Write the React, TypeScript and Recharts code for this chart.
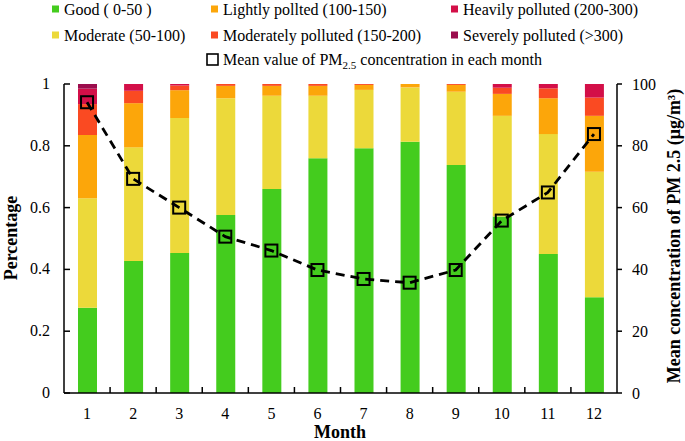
import React from 'react';
import { ComposedChart, Bar, Line, XAxis, YAxis } from 'recharts';

const months = ['1', '2', '3', '4', '5', '6', '7', '8', '9', '10', '11', '12'];

// share of days in each AQI class per month
const good = [0.276, 0.427, 0.453, 0.576, 0.66, 0.76, 0.792, 0.813, 0.738, 0.571, 0.45, 0.31];
const moderate = [0.354, 0.368, 0.437, 0.378, 0.302, 0.202, 0.189, 0.176, 0.237, 0.326, 0.388, 0.406];
const lightly = [0.205, 0.143, 0.09, 0.04, 0.032, 0.032, 0.016, 0.011, 0.022, 0.071, 0.116, 0.181];
const moderately = [0.1, 0.04, 0.015, 0.006, 0.006, 0.006, 0.003, 0, 0.003, 0.02, 0.032, 0.059];
const heavily = [0.05, 0.022, 0.005, 0, 0, 0, 0, 0, 0, 0.012, 0.014, 0.044];
const severely = [0.015, 0, 0, 0, 0, 0, 0, 0, 0, 0, 0, 0];

// mean PM2.5 (ug/m3)
const pmMean = [94.1, 69.3, 60.0, 50.6, 46.1, 39.8, 36.9, 35.7, 39.8, 55.8, 64.9, 83.8];

const leftTicks = [0, 0.2, 0.4, 0.6, 0.8, 1];
const rightTicks = [0, 20, 40, 60, 80, 100];

const FONT = '"Times New Roman", "Liberation Serif", Times, serif';

const series = [
  { key: 'good', name: 'Good ( 0-50 )', color: '#44CC1E', values: good },
  { key: 'moderate', name: 'Moderate (50-100)', color: '#ECD93A', values: moderate },
  { key: 'lightly', name: 'Lightly pollted (100-150)', color: '#FCA60A', values: lightly },
  { key: 'moderately', name: 'Moderately polluted (150-200)', color: '#FA4A22', values: moderately },
  { key: 'heavily', name: 'Heavily polluted (200-300)', color: '#D30F48', values: heavily },
  { key: 'severely', name: 'Severely polluted (>300)', color: '#9B0D4D', values: severely },
];

const data = months.map((m, i) => {
  const row: any = { month: m, pm: pmMean[i] };
  series.forEach(s => { row[s.key] = s.values[i]; });
  return row;
});

// month label plus a short inner tick at the right edge of each band
const MonthTick = (props: any) => {
  const { x, y, payload, width, visibleTicksCount } = props;
  const count = visibleTicksCount || months.length;
  const half = payload.offset || (width ? width / count / 2 : 0);
  const edge = x + half;
  const last = String(payload.value) === months[months.length - 1];
  return (
    <g>
      {!last && half > 0 && (
        <line x1={edge} x2={edge} y1={y} y2={y - 6} stroke="#000" strokeWidth={1.5} />
      )}
      <text x={x} y={y + 26} textAnchor="middle" fontSize={16} fontFamily={FONT} fill="#000">
        {payload.value}
      </text>
    </g>
  );
};

const LeftTick = (props: any) => {
  const { x, y, payload } = props;
  return (
    <g>
      <line x1={x} x2={x + 6} y1={y} y2={y} stroke="#000" strokeWidth={1.5} />
      <text x={x - 14} y={y + 5} textAnchor="end" fontSize={16} fontFamily={FONT} fill="#000">
        {payload.value}
      </text>
    </g>
  );
};

const SquareDot = (props: any) => {
  const { cx, cy } = props;
  if (cx == null || cy == null) return null;
  return <rect x={cx - 6} y={cy - 6} width={12} height={12} fill="none" stroke="#000" strokeWidth={2} />;
};

const legendCols = [52, 211, 451];
const legendRows = [14.5, 40.5];

const App = () => {
  return (
    <div style={{ position: 'absolute', left: 0, top: 0, width: 685, height: 441, background: '#fff', fontFamily: FONT }}>
      <ComposedChart
        width={685}
        height={441}
        data={data}
        margin={{ top: 84, right: 0, bottom: 0, left: 0 }}
        style={{ fontFamily: FONT }}
      >
        <YAxis
          yAxisId="left"
          width={64}
          domain={[0, 1]}
          ticks={leftTicks}
          interval={0}
          tickLine={false}
          tickSize={0}
          tickMargin={0}
          axisLine={{ stroke: '#000', strokeWidth: 1.5 }}
          tick={<LeftTick />}
        />
        <YAxis
          yAxisId="right"
          orientation="right"
          width={68}
          domain={[0, 100]}
          ticks={rightTicks}
          interval={0}
          tickSize={5}
          tickMargin={10}
          tickLine={{ stroke: '#000', strokeWidth: 1.5 }}
          axisLine={{ stroke: '#000', strokeWidth: 1.5 }}
          tick={{ fill: '#000', fontSize: 16, fontFamily: FONT }}
        />
        {series.map(s => (
          <Bar
            key={s.key}
            dataKey={s.key}
            name={s.name}
            stackId="a"
            xAxisId="m"
            yAxisId="left"
            fill={s.color}
            barSize={19}
            isAnimationActive={false}
          />
        ))}
        <Line
          dataKey="pm"
          xAxisId="m"
          yAxisId="right"
          type="linear"
          stroke="#000"
          strokeWidth={2.8}
          strokeDasharray="9 6"
          dot={<SquareDot />}
          activeDot={false}
          isAnimationActive={false}
        />
        <XAxis
          dataKey="month"
          xAxisId="m"
          height={48}
          interval={0}
          tickLine={false}
          tickSize={0}
          tickMargin={0}
          axisLine={{ stroke: '#000', strokeWidth: 1.5 }}
          tick={<MonthTick />}
        />
      </ComposedChart>

      <svg
        width={685}
        height={441}
        style={{ position: 'absolute', left: 0, top: 0, pointerEvents: 'none' }}
        fontFamily={FONT}
      >
        {[0, 1].map(r =>
          [0, 1, 2].map(c => {
            const s = series[c * 2 + r];
            const x = legendCols[c];
            const y = legendRows[r];
            return (
              <g key={s.key}>
                <rect x={x} y={y - 9} width={7} height={7} fill={s.color} />
                <text x={x + 12} y={y} fontSize={16} fill="#000">{s.name}</text>
              </g>
            );
          })
        )}
        <rect x={207} y={54} width={11} height={11} fill="none" stroke="#000" strokeWidth={1.6} />
        <text x={223} y={65} fontSize={16} fill="#000">
          Mean value of PM<tspan fontSize={11} dy={4}>2.5</tspan>
          <tspan dy={-4}> concentration in each month</tspan>
        </text>

        <text
          transform="translate(17,238) rotate(-90)"
          textAnchor="middle"
          fontSize={18}
          fontWeight="bold"
          fill="#000"
        >
          Percentage
        </text>
        <text
          transform="translate(680,236) rotate(-90)"
          textAnchor="middle"
          fontSize={18}
          fontWeight="bold"
          fill="#000"
        >
          Mean concentration of PM 2.5 (μg/m³)
        </text>
        <text x={340} y={438} textAnchor="middle" fontSize={18} fontWeight="bold" fill="#000">
          Month
        </text>
      </svg>
    </div>
  );
};

export default App;
